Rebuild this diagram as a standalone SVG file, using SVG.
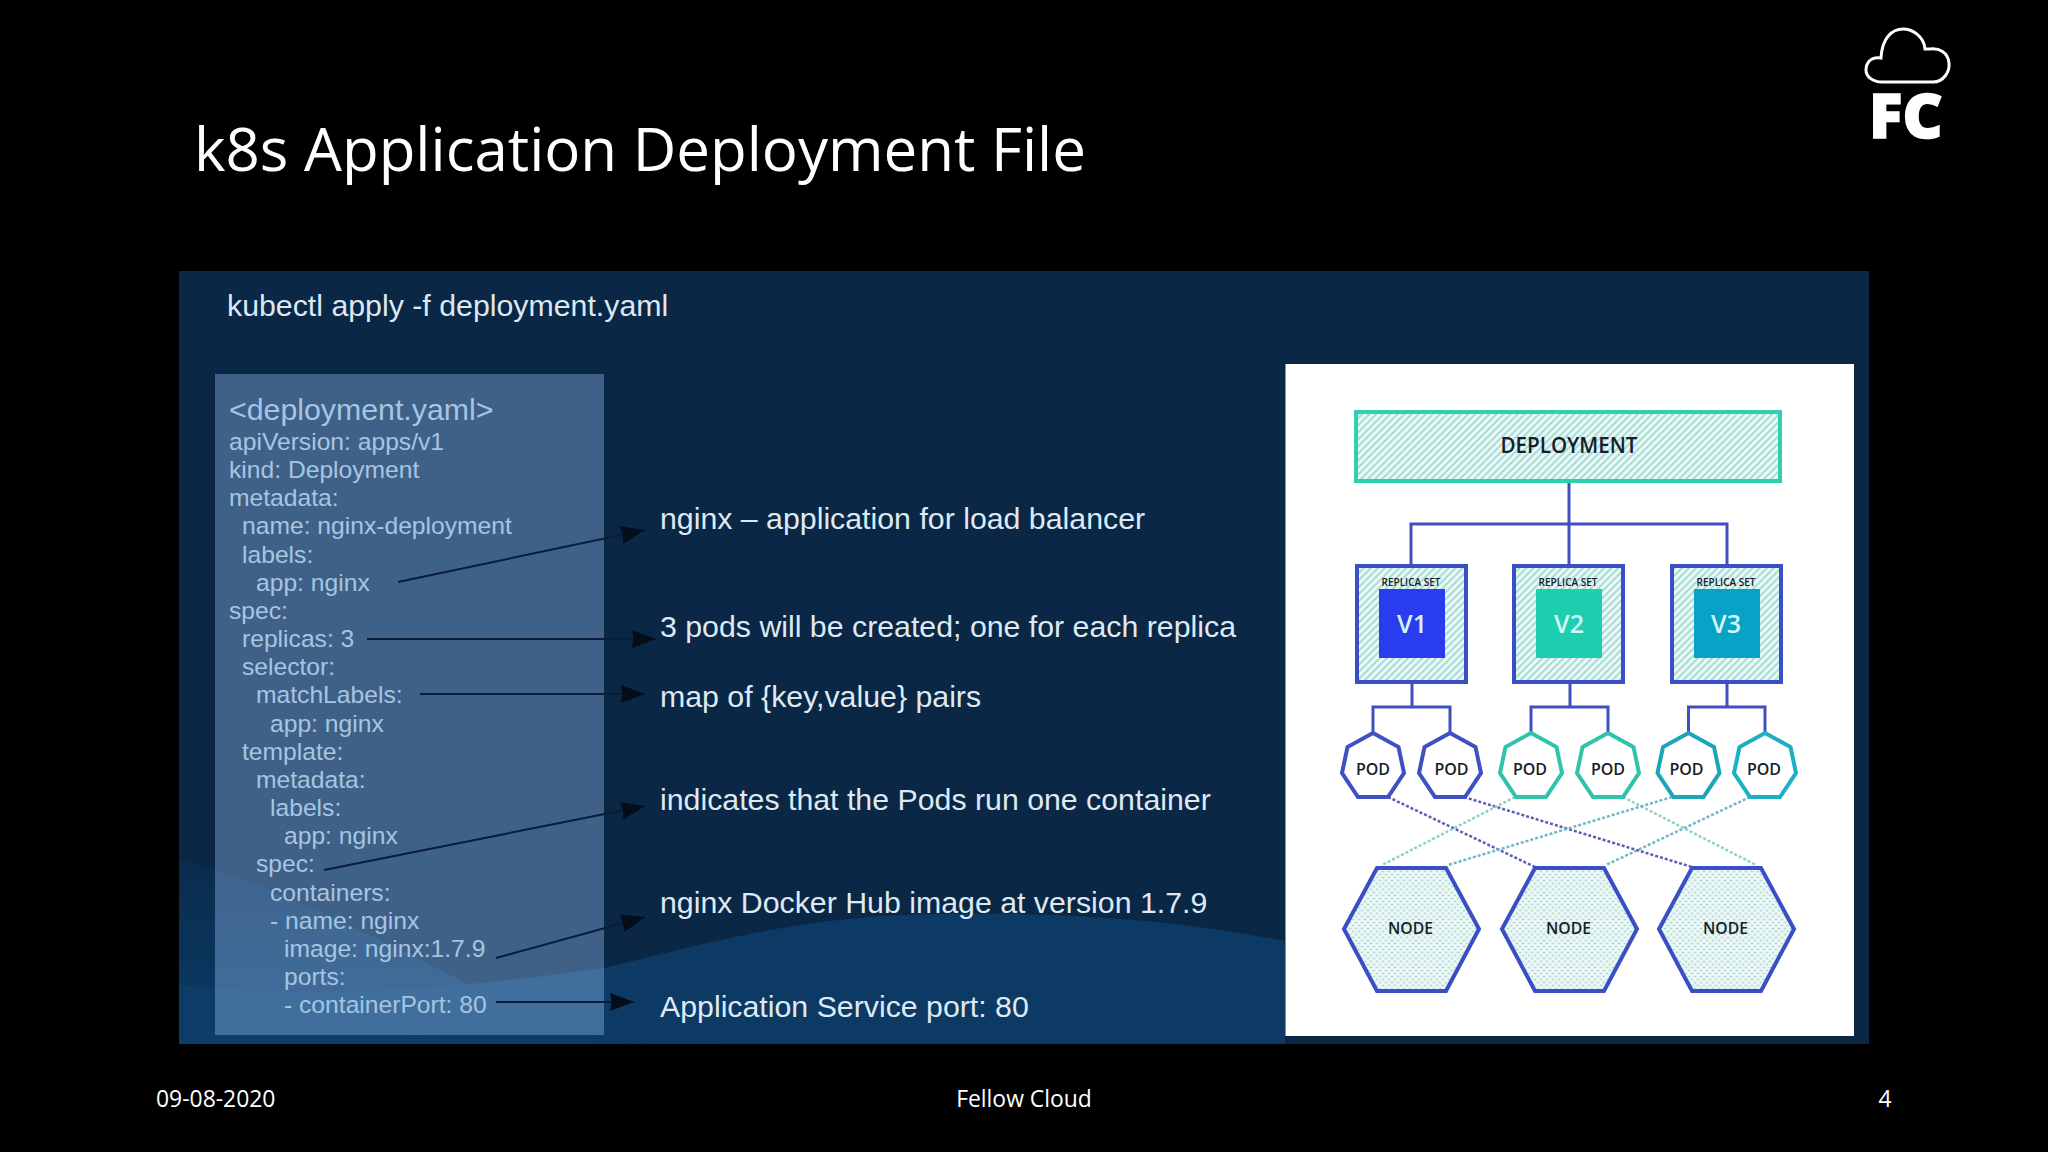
<svg xmlns="http://www.w3.org/2000/svg" width="2048" height="1152" viewBox="0 0 2048 1152">
<defs>
<linearGradient id="wave" gradientUnits="userSpaceOnUse" x1="179" y1="1044" x2="700" y2="900"><stop offset="0" stop-color="#0c3c68"/><stop offset="0.35" stop-color="#0c3c68"/><stop offset="1" stop-color="#0c3a64"/></linearGradient>
<linearGradient id="wedge" gradientUnits="userSpaceOnUse" x1="179" y1="860" x2="179" y2="1000"><stop offset="0" stop-color="#0a2c4e"/><stop offset="1" stop-color="#0b3760"/></linearGradient>
<pattern id="hatch" width="5" height="5" patternUnits="userSpaceOnUse" patternTransform="rotate(-45)"><rect width="5" height="5" fill="#eaf8f6"/><rect width="5" height="2" fill="#a8dcd6"/></pattern>
<pattern id="dots" width="6" height="6" patternUnits="userSpaceOnUse"><rect width="6" height="6" fill="#eef8f7"/><circle cx="1.500" cy="1.500" r="1.100" fill="#9ed4cc"/><circle cx="4.500" cy="4.500" r="1.100" fill="#9ed4cc"/></pattern>
<marker id="arr" markerUnits="userSpaceOnUse" markerWidth="25" markerHeight="18" refX="24" refY="9" orient="auto"><path d="M0 0L24 9L0 18L1.500 9Z" fill="#050d18"/></marker>
</defs>
<style>
.t{font-family:"Liberation Sans",Arial,sans-serif}
.y{font-size:24.650px;fill:#a6c5e2}
.h{font-size:30.300px}
.n{font-size:30.300px;fill:#dfe9f3}
.o{font-family:"Open Sans",sans-serif;font-weight:600;fill:#15202b;text-anchor:middle}
.v{font-family:"Open Sans",sans-serif;font-weight:600;font-size:25px;fill:#d4f6f8;text-anchor:middle}
.f{font-family:"Open Sans",sans-serif;font-size:22.900px;fill:#fff}
.c{fill:none;stroke:#4050c0;stroke-width:3}
.a{fill:none;stroke:#0a1c38;stroke-width:2;marker-end:url(#arr)}
.d{fill:none;stroke-width:2.500;stroke-dasharray:3 2}
.rs{fill:url(#hatch);stroke:#3a4fc4;stroke-width:4}
.nd{fill:url(#dots);stroke:#3a4fc4;stroke-width:4}
.pd{fill:#fff;stroke-width:4}
</style>
<rect width="2048" height="1152" fill="#000"/>
<text x="194" y="171" font-family="Open Sans, sans-serif" font-size="60" fill="#fff">k8s Application Deployment File</text>
<g id="logo" fill="none" stroke="#fff" stroke-width="3">
<path d="M1882 82H1933C1944 82 1950 71 1949 63C1948 52 1939 48 1930 49H1925C1924 36 1912 29 1903 29C1892 29 1882 38 1881 58C1870 56 1866 64 1866 70C1866 77 1873 82 1882 82Z"/>
<text x="1869" y="138" font-family="Open Sans, sans-serif" font-weight="800" font-size="62" fill="#fff" stroke-width="1.500">FC</text>
</g>
<rect x="179" y="271" width="1690" height="773" fill="#0a2745"/>
<path d="M179 860C260 880 360 930 470 985L179 1010Z" fill="url(#wedge)"/>
<path d="M179 985C300 1000 450 990 604 968C700 945 800 915 940 914C1050 912 1170 918 1285 941V1044H179Z" fill="url(#wave)"/>
<rect x="215" y="374" width="389" height="661" fill="#9dcbff" fill-opacity="0.360"/>
<rect x="1285.500" y="364" width="568.500" height="672" fill="#fff"/>
<text class="t" x="227" y="316" font-size="30.300" fill="#dce8f2" id="cmd">kubectl apply -f deployment.yaml</text>
<g id="yaml" class="t">
<text class="y h" x="229" y="420">&lt;deployment.yaml&gt;</text>
<text class="y" x="229" y="450">apiVersion: apps/v1</text>
<text class="y" x="229" y="478">kind: Deployment</text>
<text class="y" x="229" y="506">metadata:</text>
<text class="y" x="242" y="534">name: nginx-deployment</text>
<text class="y" x="242" y="563">labels:</text>
<text class="y" x="256" y="591">app: nginx</text>
<text class="y" x="229" y="619">spec:</text>
<text class="y" x="242" y="647">replicas: 3</text>
<text class="y" x="242" y="675">selector:</text>
<text class="y" x="256" y="703">matchLabels:</text>
<text class="y" x="270" y="732">app: nginx</text>
<text class="y" x="242" y="760">template:</text>
<text class="y" x="256" y="788">metadata:</text>
<text class="y" x="270" y="816">labels:</text>
<text class="y" x="284" y="844">app: nginx</text>
<text class="y" x="256" y="872">spec:</text>
<text class="y" x="270" y="901">containers:</text>
<text class="y" x="270" y="929">- name: nginx</text>
<text class="y" x="284" y="957">image: nginx:1.7.9</text>
<text class="y" x="284" y="985">ports:</text>
<text class="y" x="284" y="1013">- containerPort: 80</text>
</g>
<g id="notes" class="t">
<text class="n" x="660" y="529">nginx – application for load balancer</text>
<text class="n" x="660" y="637">3 pods will be created; one for each replica</text>
<text class="n" x="660" y="707">map of {key,value} pairs</text>
<text class="n" x="660" y="810">indicates that the Pods run one container</text>
<text class="n" x="660" y="913">nginx Docker Hub image at version 1.7.9</text>
<text class="n" x="660" y="1017">Application Service port: 80</text>
</g>
<g id="arrows">
<path class="a" d="M398 582L645 530"/>
<path class="a" d="M367 639H656"/>
<path class="a" d="M420 694H645"/>
<path class="a" d="M324 870L645 806"/>
<path class="a" d="M496 958L645 917"/>
<path class="a" d="M496 1002H634"/>
</g>
<g id="connectors">
<path class="c" d="M1569 481V565M1411 565V524H1727V565"/>
<path class="c" d="M1412 682V707M1373 733V707H1450V733"/>
<path class="c" d="M1570 682V707M1531 733V707H1608V733"/>
<path class="c" d="M1727 682V707M1688.500 733V707H1765V733"/>
<path class="d" stroke="#5a5fb5" d="M1388 797L1535 867M1464 797L1692 867"/>
<path class="d" stroke="#8fd0c8" d="M1515 797L1382 865M1623 797L1756 865"/>
<path class="d" stroke="#6fb8c4" d="M1672 797L1448 865M1750 797L1606 865"/>
</g>
<g id="deployment"><rect x="1356" y="412" width="424" height="69" fill="url(#hatch)" stroke="#2fd0b0" stroke-width="4"/><text class="o" x="1569" y="453" font-size="22" textLength="137" lengthAdjust="spacingAndGlyphs">DEPLOYMENT</text></g>
<g id="rs1"><rect class="rs" x="1357" y="566" width="109" height="116"/><rect x="1379" y="589" width="66" height="69" fill="#2a3cf0"/><text class="o" x="1411" y="586" font-size="10">REPLICA SET</text><text class="v" x="1412" y="633">V1</text></g>
<g id="rs2"><rect class="rs" x="1514" y="566" width="109" height="116"/><rect x="1536" y="589" width="66" height="69" fill="#1dcfae"/><text class="o" x="1568" y="586" font-size="10">REPLICA SET</text><text class="v" x="1569" y="633">V2</text></g>
<g id="rs3"><rect class="rs" x="1672" y="566" width="109" height="116"/><rect x="1694" y="589" width="66" height="69" fill="#07a3c6"/><text class="o" x="1726" y="586" font-size="10">REPLICA SET</text><text class="v" x="1726" y="633">V3</text></g>
<g id="pod1" transform="translate(1373 0)"><path class="pd" stroke="#3f4fc4" d="M0 733L25.500 747L31 773L15 797H-15L-31 773L-25.500 747Z"/><text class="o" y="775" font-size="16">POD</text></g>
<g id="pod2" transform="translate(1450 0)"><path class="pd" stroke="#3f4fc4" d="M0 733L25.500 747L31 773L15 797H-15L-31 773L-25.500 747Z"/><text class="o" x="1.500" y="775" font-size="16">POD</text></g>
<g id="pod3" transform="translate(1531 0)"><path class="pd" stroke="#2fc4aa" d="M0 733L25.500 747L31 773L15 797H-15L-31 773L-25.500 747Z"/><text class="o" x="-1" y="775" font-size="16">POD</text></g>
<g id="pod4" transform="translate(1608 0)"><path class="pd" stroke="#2fc4aa" d="M0 733L25.500 747L31 773L15 797H-15L-31 773L-25.500 747Z"/><text class="o" x="0" y="775" font-size="16">POD</text></g>
<g id="pod5" transform="translate(1688.500 0)"><path class="pd" stroke="#1ca5b8" d="M0 733L25.500 747L31 773L15 797H-15L-31 773L-25.500 747Z"/><text class="o" x="-2" y="775" font-size="16">POD</text></g>
<g id="pod6" transform="translate(1765 0)"><path class="pd" stroke="#1cb0c4" d="M0 733L25.500 747L31 773L15 797H-15L-31 773L-25.500 747Z"/><text class="o" x="-1" y="775" font-size="16">POD</text></g>
<g id="node1" transform="translate(1411.500 0)"><path class="nd" d="M-34.500 868H34.500L67.500 929L34.500 991H-34.500L-67.500 929Z"/><text class="o" x="-1" y="934" font-size="17" textLength="45" lengthAdjust="spacingAndGlyphs">NODE</text></g>
<g id="node2" transform="translate(1569.500 0)"><path class="nd" d="M-34.500 868H34.500L67.500 929L34.500 991H-34.500L-67.500 929Z"/><text class="o" x="-1" y="934" font-size="17" textLength="45" lengthAdjust="spacingAndGlyphs">NODE</text></g>
<g id="node3" transform="translate(1726.500 0)"><path class="nd" d="M-34.500 868H34.500L67.500 929L34.500 991H-34.500L-67.500 929Z"/><text class="o" x="-1" y="934" font-size="17" textLength="45" lengthAdjust="spacingAndGlyphs">NODE</text></g>
<g id="footer"><text class="f" x="156" y="1107">09-08-2020</text><text class="f" x="1024" y="1107" text-anchor="middle">Fellow Cloud</text><text class="f" x="1885" y="1107" text-anchor="middle">4</text></g>
</svg>
